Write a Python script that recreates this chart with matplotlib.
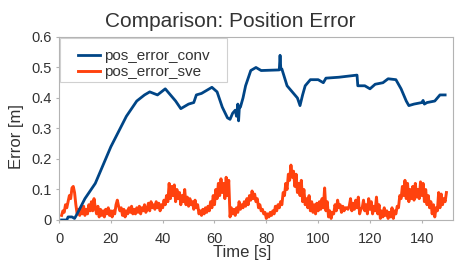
#!/usr/bin/env python3
"""
Position error comparison chart
"""

import numpy as np
import matplotlib
matplotlib.use('Agg')
import matplotlib.pyplot as plt
from matplotlib.patches import Rectangle

conv_time = [1, 3, 3.5, 5, 6, 7, 10, 14, 17, 20, 23, 26, 30, 33, 35, 38, 41, 43, 45, 47,
             50, 52, 53, 55, 57, 59, 61, 63, 65, 66, 67, 68, 68.5, 69, 69.3, 69.6, 70, 71,
             72, 74, 76, 78, 85, 85.3, 85.6, 86, 88, 90, 92, 93, 94, 95, 97, 100, 101,
             102, 103, 108, 115, 115.3, 118, 120, 122, 125, 127, 130, 132, 134, 135, 137,
             140, 140.5, 141, 142, 145, 147, 149]
conv_error = [0.0, 0.0, 0.01, 0.01, 0.005, 0.02, 0.07, 0.12, 0.18, 0.24, 0.29, 0.34, 0.39,
              0.41, 0.42, 0.41, 0.43, 0.41, 0.39, 0.365, 0.38, 0.385, 0.41, 0.415, 0.425,
              0.435, 0.42, 0.37, 0.335, 0.33, 0.35, 0.36, 0.34, 0.38, 0.325, 0.37, 0.37,
              0.40, 0.44, 0.49, 0.50, 0.49, 0.492, 0.54, 0.495, 0.495, 0.44, 0.42, 0.40,
              0.375, 0.41, 0.44, 0.46, 0.46, 0.455, 0.45, 0.465, 0.468, 0.475, 0.44, 0.44,
              0.43, 0.445, 0.45, 0.463, 0.46, 0.43, 0.39, 0.375, 0.38, 0.385, 0.392, 0.38,
              0.385, 0.39, 0.41, 0.41]

# SVE error, sampled every 0.5 s from t=1
sve_time = np.arange(1, 150, 0.5)
sve_error = [
    0.015, 0.03, 0.025, 0.05, 0.04, 0.06, 0.08, 0.07, 0.105, 0.11, 0.09, 0.05, 0.02, 0.035, 0.015, 0.04, 0.02, 0.045, 0.015, 0.035,
    0.02, 0.05, 0.03, 0.06, 0.03, 0.07, 0.04, 0.02, 0.045, 0.01, 0.035, 0.015, 0.03, 0.01, 0.035, 0.02, 0.04, 0.015, 0.03, 0.01,
    0.03, 0.02, 0.05, 0.065, 0.045, 0.03, 0.04, 0.015, 0.035, 0.01, 0.03, 0.02, 0.04, 0.025, 0.045, 0.02, 0.035, 0.02, 0.04, 0.025,
    0.045, 0.02, 0.04, 0.03, 0.05, 0.025, 0.035, 0.055, 0.03, 0.06, 0.04, 0.05, 0.035, 0.06, 0.04, 0.055, 0.03, 0.05, 0.04, 0.065,
    0.05, 0.08, 0.06, 0.12, 0.07, 0.11, 0.08, 0.115, 0.06, 0.1, 0.07, 0.09, 0.05, 0.08, 0.06, 0.1, 0.05, 0.075, 0.045, 0.07,
    0.05, 0.06, 0.035, 0.065, 0.04, 0.05, 0.02, 0.03, 0.015, 0.035, 0.02, 0.04, 0.025, 0.045, 0.03, 0.06, 0.04, 0.08, 0.05, 0.1,
    0.07, 0.12, 0.08, 0.135, 0.09, 0.12, 0.07, 0.14, 0.08, 0.13, 0.01, 0.04, 0.02, 0.035, 0.015, 0.04, 0.025, 0.06, 0.035, 0.05,
    0.04, 0.06, 0.045, 0.07, 0.05, 0.08, 0.065, 0.095, 0.07, 0.085, 0.06, 0.07, 0.04, 0.05, 0.03, 0.035, 0.02, 0.025, 0.005, 0.02,
    0.01, 0.025, 0.015, 0.03, 0.02, 0.045, 0.03, 0.05, 0.04, 0.06, 0.05, 0.09, 0.08, 0.12, 0.1, 0.15, 0.13, 0.18, 0.14, 0.16,
    0.11, 0.15, 0.09, 0.12, 0.08, 0.13, 0.06, 0.1, 0.05, 0.07, 0.04, 0.08, 0.03, 0.06, 0.025, 0.05, 0.02, 0.055, 0.03, 0.06,
    0.035, 0.07, 0.04, 0.105, 0.03, 0.06, 0.01, 0.03, 0.005, 0.025, 0.02, 0.05, 0.03, 0.065, 0.04, 0.05, 0.025, 0.045, 0.03, 0.04,
    0.04, 0.035, 0.045, 0.07, 0.03, 0.055, 0.035, 0.065, 0.04, 0.075, 0.02, 0.035, 0.04, 0.065, 0.03, 0.05, 0.02, 0.07, 0.035, 0.06,
    0.02, 0.045, 0.03, 0.075, 0.02, 0.05, 0.005, 0.03, 0.01, 0.04, 0.015, 0.03, 0.005, 0.025, 0.01, 0.04, 0.005, 0.03, 0.02, 0.045,
    0.04, 0.08, 0.07, 0.11, 0.08, 0.13, 0.07, 0.12, 0.06, 0.1, 0.07, 0.11, 0.065, 0.12, 0.075, 0.1, 0.07, 0.125, 0.08, 0.12,
    0.06, 0.1, 0.05, 0.08, 0.04, 0.06, 0.02, 0.05, 0.01, 0.04, 0.03, 0.09, 0.04, 0.085, 0.05, 0.07, 0.06, 0.09,
]

x_ticks = [0, 20, 40, 60, 80, 100, 120, 140]
y_ticks = [0, 0.1, 0.2, 0.3, 0.4, 0.5, 0.6]
y_labels = ['0', '0.1', '0.2', '0.3', '0.4', '0.5', '0.6']

plt.rcParams['font.family'] = ['Liberation Sans', 'DejaVu Sans']
text_color = '#333333'
frame_color = '#b3b3b3'

fig = plt.figure(figsize=(4.74, 2.66), dpi=100)
ax = fig.add_axes([0.1245, 0.173, 0.831, 0.688])

ax.plot(conv_time, conv_error, color='#004586', lw=2.0, label='pos_error_conv', zorder=3)
ax.plot(sve_time, sve_error, color='#ff420e', lw=2.1, label='pos_error_sve', zorder=2)

ax.set_xlim(0, 152)
ax.set_ylim(0, 0.6)
ax.set_xticks(x_ticks)
ax.set_yticks(y_ticks)
ax.set_yticklabels(y_labels)
ax.tick_params(axis='x', colors=frame_color, labelcolor=text_color, labelsize=10.5,
               length=2.5, width=0.8, pad=6)
ax.tick_params(axis='y', colors=frame_color, labelcolor=text_color, labelsize=10.5,
               length=2.5, width=0.8, pad=3)
for s in ax.spines.values():
    s.set_color(frame_color)
    s.set_linewidth(0.8)

ax.set_xlabel('Time [s]', color=text_color, fontsize=12)
ax.xaxis.set_label_coords(0.464, -0.137)
ax.set_ylabel('Error [m]', color=text_color, fontsize=12)
ax.yaxis.set_label_coords(-0.089, 0.456)
fig.text(0.485, 0.9, 'Comparison: Position Error', color=text_color, fontsize=15,
         ha='center', va='baseline')

# legend box drawn by hand so the padding matches
ax.add_patch(Rectangle((0.0025, 0.754), 0.424, 0.2405, transform=ax.transAxes,
                       facecolor='white', edgecolor='#d0d0d0', lw=0.8, zorder=4))
leg = ax.legend(loc='upper left', bbox_to_anchor=(0.047, 0.935), fontsize=11,
                frameon=False, borderaxespad=0, borderpad=0, handlelength=1.44,
                handletextpad=0.27, labelspacing=0.15, labelcolor=text_color)
leg.set_zorder(5)

fig.savefig('out.png', dpi=100)
